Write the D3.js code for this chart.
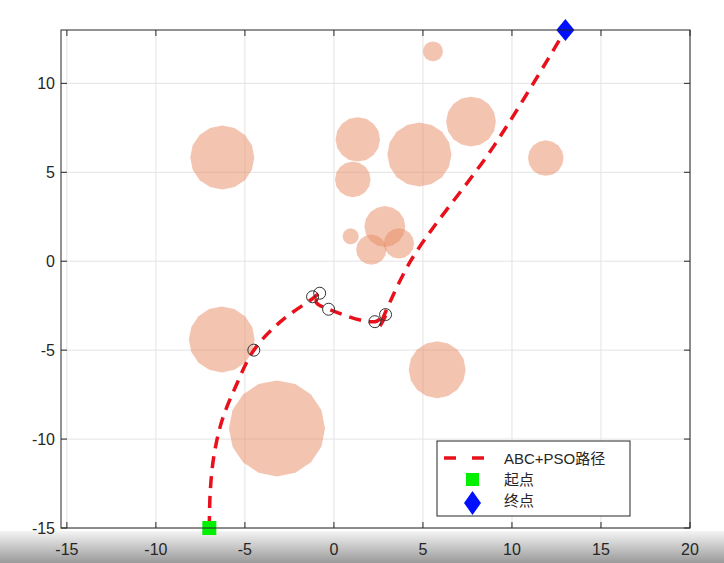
<!DOCTYPE html>
<html><head><meta charset="utf-8">
<script src="https://cdn.jsdelivr.net/npm/d3@7"></script>
<style>body{margin:0;background:#fff}text{font-family:"Liberation Sans",Arial,sans-serif}</style>
</head><body><svg id="c" width="724" height="563"></svg>
<script>
var xTicks = [-15, -10, -5, 0, 5, 10, 15, 20];
var yTicks = [-15, -10, -5, 0, 5, 10];
// obstacles: [x, y, r]
var obstacles = [
  [5.56, 11.8, 0.56], [7.7, 7.85, 1.4], [4.8, 6.0, 1.8], [1.34, 6.85, 1.25],
  [11.9, 5.8, 1.0], [-6.27, 5.83, 1.8], [1.06, 4.6, 1.0], [2.86, 1.95, 1.15],
  [0.94, 1.4, 0.45], [2.1, 0.65, 0.85], [3.65, 1.0, 0.85], [-6.3, -4.4, 1.85],
  [5.8, -6.1, 1.6], [-3.2, -9.4, 2.7]
];
var pathPts = [
  [-7, -15], [-6.95, -13], [-6.75, -11], [-6.3, -9], [-5.5, -7], [-4.5, -5],
  [-3, -3.4], [-1.2, -2.1], [-0.8, -1.8], [-1.0, -2.3], [-0.3, -2.7],
  [2.3, -3.4], [2.9, -3.0], [2.55, -3.7], [4.3, 0], [9, 6.5], [13, 13]
];
var waypoints = [[-4.5, -5], [-1.2, -2.0], [-0.8, -1.8], [-0.3, -2.7], [2.3, -3.4], [2.9, -3.0]];
var startPt = [-7, -15], endPt = [13, 13];
var legendLabels = ["ABC+PSO路径", "起点", "终点"];

var svg = d3.select("#c");
var L = 61, R = 690, T = 30, B = 528;
var x = d3.scaleLinear().domain([-15.33, 20]).range([L, R]);
var y = d3.scaleLinear().domain([-15, 13]).range([B, T]);

var defs = svg.append("defs");
var gr = defs.append("linearGradient").attr("id", "bg").attr("x1", 0).attr("x2", 0).attr("y1", 0).attr("y2", 1);
gr.append("stop").attr("offset", "0").attr("stop-color", "#f4f4f4");
gr.append("stop").attr("offset", "1").attr("stop-color", "#9a9a9a");
svg.append("rect").attr("x", 0).attr("y", 531).attr("width", 724).attr("height", 32).attr("fill", "url(#bg)");

var g = svg.append("g");
g.selectAll(".gx").data(xTicks).enter().append("line")
  .attr("x1", d => x(d)).attr("x2", d => x(d)).attr("y1", T).attr("y2", B)
  .attr("stroke", "#e3e3e3");
g.selectAll(".gy").data(yTicks).enter().append("line")
  .attr("y1", d => y(d)).attr("y2", d => y(d)).attr("x1", L).attr("x2", R)
  .attr("stroke", "#e3e3e3");

function poly(d) {
  var n = 16, p = [];
  for (var i = 0; i < n; i++) {
    var a = 2 * Math.PI * i / n;
    p.push([x(d[0] + d[2] * Math.cos(a)), y(d[1] + d[2] * Math.sin(a))]);
  }
  return "M" + p.join("L") + "Z";
}
g.selectAll(".ob").data(obstacles).enter().append("path")
  .attr("d", poly).attr("fill", "rgb(232,140,100)").attr("fill-opacity", 0.5);

g.append("path").datum(pathPts)
  .attr("d", d3.line().x(d => x(d[0])).y(d => y(d[1])).curve(d3.curveCatmullRom.alpha(0.5)))
  .attr("fill", "none").attr("stroke", "#e8101a").attr("stroke-width", 3.5).attr("stroke-dasharray", "12,8");

g.selectAll(".wp").data(waypoints).enter().append("circle")
  .attr("cx", d => x(d[0])).attr("cy", d => y(d[1])).attr("r", 6)
  .attr("fill", "none").attr("stroke", "#333").attr("stroke-width", 1);

g.append("rect").attr("x", x(startPt[0]) - 7).attr("y", y(startPt[1]) - 7).attr("width", 14).attr("height", 14).attr("fill", "#00f000");
var ex = x(endPt[0]), ey = y(endPt[1]);
g.append("path").attr("d", `M${ex},${ey-11}L${ex+9},${ey}L${ex},${ey+11}L${ex-9},${ey}Z`).attr("fill", "#0010ff");

// axes box
g.append("rect").attr("x", L).attr("y", T).attr("width", R - L).attr("height", B - T)
  .attr("fill", "none").attr("stroke", "#262626").attr("stroke-width", 1);
xTicks.forEach(function (t) {
  g.append("line").attr("x1", x(t)).attr("x2", x(t)).attr("y1", B).attr("y2", B - 6).attr("stroke", "#262626");
  g.append("line").attr("x1", x(t)).attr("x2", x(t)).attr("y1", T).attr("y2", T + 6).attr("stroke", "#262626");
  g.append("text").attr("x", x(t)).attr("y", 555).attr("text-anchor", "middle").attr("font-size", 16).attr("fill", "#262626").text(t);
});
yTicks.forEach(function (t) {
  g.append("line").attr("y1", y(t)).attr("y2", y(t)).attr("x1", L).attr("x2", L + 6).attr("stroke", "#262626");
  g.append("line").attr("y1", y(t)).attr("y2", y(t)).attr("x1", R).attr("x2", R - 6).attr("stroke", "#262626");
  g.append("text").attr("x", L - 6).attr("y", y(t) + 6).attr("text-anchor", "end").attr("font-size", 16).attr("fill", "#262626").text(t);
});

// legend
var lg = svg.append("g").attr("transform", "translate(437,441)");
lg.append("rect").attr("width", 193).attr("height", 75).attr("fill", "#fff").attr("stroke", "#262626");
lg.append("line").attr("x1", 7).attr("x2", 48).attr("y1", 17).attr("y2", 17)
  .attr("stroke", "#e8101a").attr("stroke-width", 3.5).attr("stroke-dasharray", "12,16");
lg.append("rect").attr("x", 29).attr("y", 32).attr("width", 13).attr("height", 13).attr("fill", "#00f000");
lg.append("path").attr("d", "M35.5,50L44,62L35.5,74L27,62Z").attr("fill", "#0010ff");
legendLabels.forEach(function (s, i) {
  lg.append("text").attr("x", 67).attr("y", 23 + i * 21).attr("font-size", 15).attr("fill", "#262626")
    .style("font-family", i ? "'Noto Sans CJK SC'" : "'Liberation Sans','Noto Sans CJK SC'").text(s);
});
</script></body></html>
